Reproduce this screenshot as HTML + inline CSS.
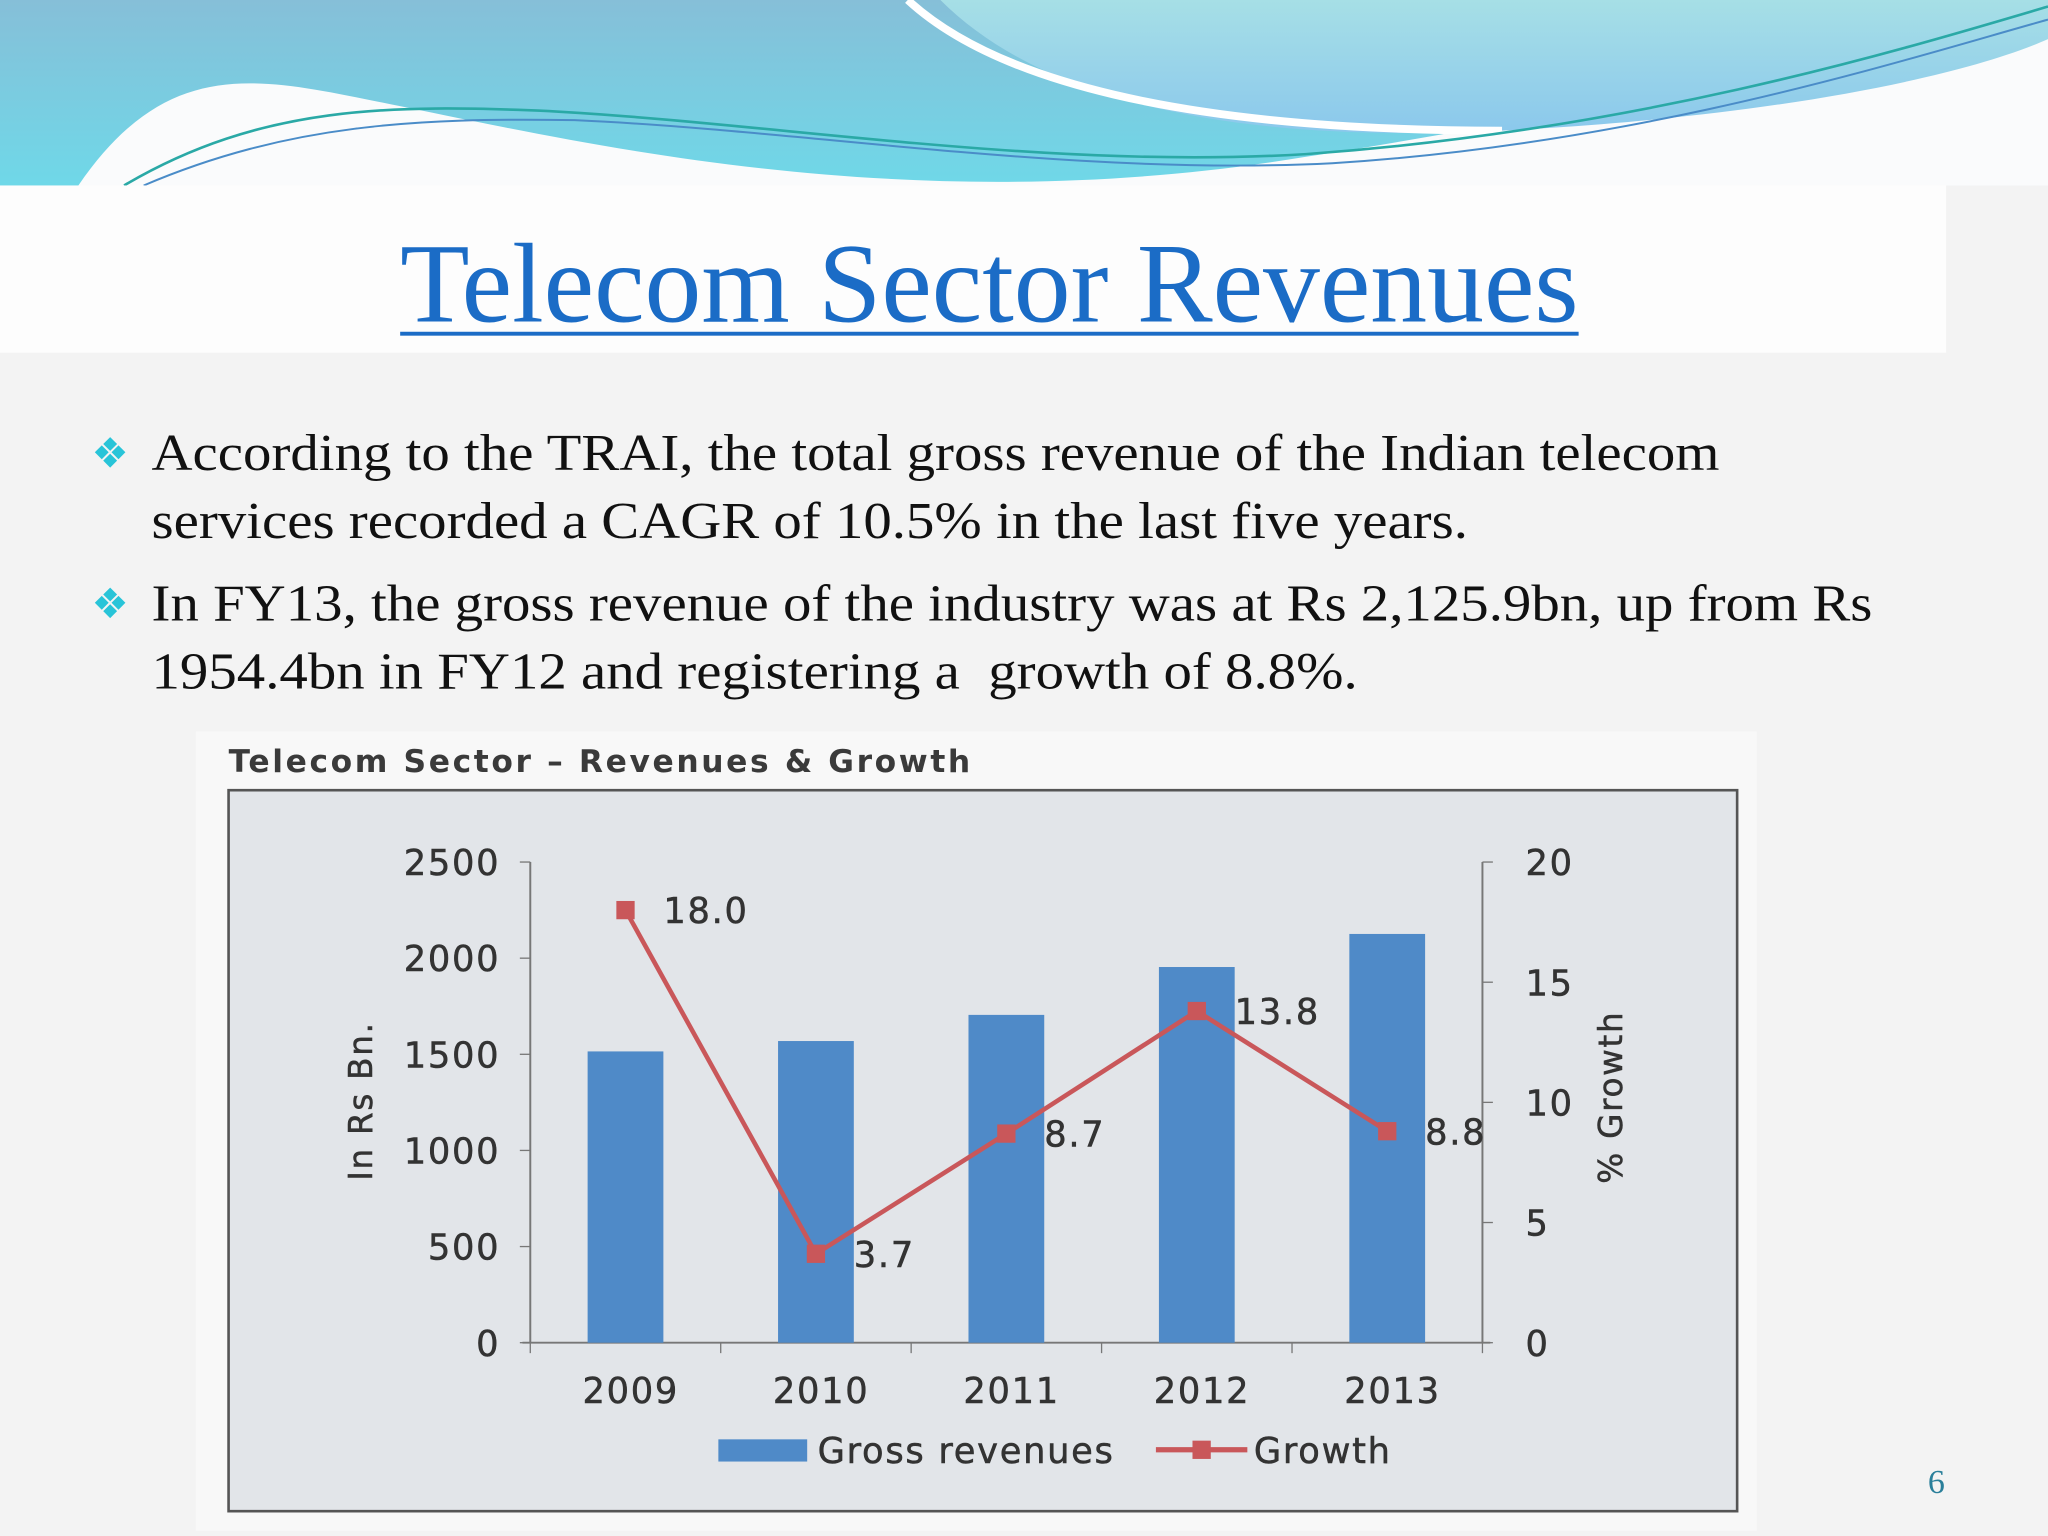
<!DOCTYPE html>
<html><head><meta charset="utf-8">
<style>
html,body{margin:0;padding:0;}
body{width:2048px;height:1536px;overflow:hidden;background:#f4f4f4;}
#stage{position:absolute;left:0;top:0;width:1568px;height:1176px;transform:scale(1.30612);transform-origin:0 0;background:#f3f3f3;}
.title{position:absolute;left:0;width:1515px;top:166px;text-align:center;font-family:"Liberation Serif",serif;font-size:87px;color:#1b6cc6;text-decoration:underline;text-decoration-thickness:3px;text-underline-offset:8px;}
.bul{position:absolute;left:116px;font-family:"Liberation Serif",serif;font-size:40px;color:#111;line-height:52px;transform:scaleX(1.088);transform-origin:0 0;white-space:nowrap;}
.dia{position:absolute;left:70px;font-size:32px;color:#28c4d8;font-family:"DejaVu Sans",sans-serif;}
#chart text{letter-spacing:1.3px;stroke:currentColor;stroke-width:0.4px;}
#chart text.ct{letter-spacing:2px;stroke-width:0;}
</style></head><body>
<div id="stage">
<svg width="1568" height="145" style="position:absolute;left:0;top:0">
<defs><linearGradient id="g1" x1="0" y1="0" x2="0" y2="1"><stop offset="0" stop-color="#86bfd8"/><stop offset="1" stop-color="#6fd8e8"/></linearGradient>
<linearGradient id="g2" x1="0" y1="0" x2="0" y2="1"><stop offset="0" stop-color="#a6dfe6"/><stop offset="1" stop-color="#8bc8ec"/></linearGradient></defs>
<rect width="1568" height="142" fill="url(#g1)"/>
<path d="M60 142 C130 40 200 60 300 80 C450 110 700 170 1000 120 C1200 90 1400 40 1568 20 L1568 142 Z" fill="#fafbfc"/>
<path d="M720 0 C800 80 950 110 1150 100 C1350 90 1500 60 1568 30 L1568 0 Z" fill="url(#g2)"/>
<path d="M695 0 C760 60 900 100 1150 100" stroke="#fff" stroke-width="6" fill="none"/>
<path d="M95 142 C200 80 300 80 420 85 C600 95 800 130 1000 118 C1250 100 1450 40 1568 5" stroke="#2aa9a6" stroke-width="2" fill="none"/>
<path d="M110 142 C220 95 320 90 440 92 C620 100 820 135 1020 125 C1260 110 1460 45 1568 15" stroke="#4a8cc8" stroke-width="1.5" fill="none"/>
</svg>
<div style="position:absolute;left:0;top:142px;width:1490px;height:128px;background:#fdfdfd"></div>
<div class="title">Telecom Sector Revenues</div>
<div class="dia" style="top:328px">❖</div>
<div class="bul" style="top:321px">According to the TRAI, the total gross revenue of the Indian telecom<br>services recorded a CAGR of 10.5% in the last five years.</div>
<div class="dia" style="top:443px">❖</div>
<div class="bul" style="top:436px">In FY13, the gross revenue of the industry was at Rs 2,125.9bn, up from Rs<br>1954.4bn in FY12 and registering a &nbsp;growth of 8.8%.</div>
<div style="position:absolute;left:1476px;top:1120px;font-family:'Liberation Serif',serif;font-size:26px;color:#2a7f9a">6</div>
<svg id="chart" width="1568" height="1176" style="position:absolute;left:0;top:0" font-family="'DejaVu Sans',sans-serif"></svg>
</div>
<script>
const categories=["2009","2010","2011","2012","2013"];
const revenues=[1515,1569,1705,1954,2126];
const growth=[18.0,3.7,8.7,13.8,8.8];
const growthLabels=["18.0","3.7","8.7","13.8","8.8"];
const leftTicks=[0,500,1000,1500,2000,2500];
const rightTicks=[0,5,10,15,20];
const NS="http://www.w3.org/2000/svg";
const svg=document.getElementById('chart');
function el(t,a,txt){const e=document.createElementNS(NS,t);for(const k in a)e.setAttribute(k,a[k]);if(txt!==undefined)e.textContent=txt;svg.appendChild(e);return e;}
const X0=406,X1=1135,Y0=1028,Y1=660;
const yL=v=>Y0-(v/2500)*(Y0-Y1);
const yR=v=>Y0-(v/20)*(Y0-Y1);
const band=(X1-X0)/categories.length;
const xc=i=>X0+band*(i+0.5);
const TC='#333';
let e;
e=el('rect',{x:150,y:560,width:1195,height:612,fill:'#f8f8f8'});


e=el('text',{x:175,y:591,'font-size':24,'font-weight':'bold','class':'ct',fill:'#3a3a3a',color:'#3a3a3a'},'Telecom Sector – Revenues & Growth');


e=el('rect',{x:175,y:605,width:1155,height:552,fill:'#e2e5e9',stroke:'#555',"stroke-width":2});


el('line',{x1:X0,y1:Y1,x2:X0,y2:Y0,stroke:'#777','stroke-width':1.5});
el('line',{x1:X1,y1:Y1,x2:X1,y2:Y0,stroke:'#777','stroke-width':1.5});
el('line',{x1:X0-6,y1:Y0,x2:X1+6,y2:Y0,stroke:'#777','stroke-width':1.5});
leftTicks.forEach(v=>{el('line',{x1:X0-8,y1:yL(v),x2:X0,y2:yL(v),stroke:'#777'});
 e=el('text',{x:383,y:yL(v)+10,'text-anchor':'end','font-size':27,fill:TC,color:TC},String(v));
 
 });
rightTicks.forEach(v=>{el('line',{x1:X1,y1:yR(v),x2:X1+8,y2:yR(v),stroke:'#777'});
 e=el('text',{x:1168,y:yR(v)+10,'font-size':27,fill:TC,color:TC},String(v));
 
 });
for(let i=0;i<=categories.length;i++){el('line',{x1:X0+band*i,y1:Y0,x2:X0+band*i,y2:Y0+8,stroke:'#777'});}
categories.forEach((c,i)=>{
 e=el('rect',{x:xc(i)-29,y:yL(revenues[i]),width:58,height:Y0-yL(revenues[i]),fill:'#4f8ac8'});
 
 
 e=el('text',{x:xc(i)+4,y:1074,'text-anchor':'middle','font-size':27,fill:TC,color:TC},c);
 
 
});
e=el('polyline',{points:growth.map((g,i)=>xc(i)+','+yR(g)).join(' '),fill:'none',stroke:'#c9575a','stroke-width':3.5});


growth.forEach((g,i)=>{
 e=el('rect',{x:xc(i)-7,y:yR(g)-7,width:14,height:14,fill:'#c9575a'});
 
 
 e=el('text',{x:xc(i)+29,y:yR(g)+10,'font-size':27,fill:TC,color:TC},growthLabels[i]);
 
 
});
e=el('text',{transform:'translate(285,843) rotate(-90)','text-anchor':'middle','font-size':25,fill:TC,color:TC},'In Rs Bn.');


e=el('text',{transform:'translate(1242,840) rotate(-90)','text-anchor':'middle','font-size':25,fill:TC,color:TC},'% Growth');


e=el('rect',{x:550,y:1102,width:68,height:17,fill:'#4f8ac8'});


e=el('text',{x:626,y:1120,'font-size':27,fill:TC,color:TC},'Gross revenues');


el('line',{x1:885,y1:1110,x2:955,y2:1110,stroke:'#c9575a','stroke-width':4});
e=el('rect',{x:913,y:1103,width:14,height:14,fill:'#c9575a'});


e=el('text',{x:960,y:1120,'font-size':27,fill:TC,color:TC},'Growth');


</script>
</body></html>
